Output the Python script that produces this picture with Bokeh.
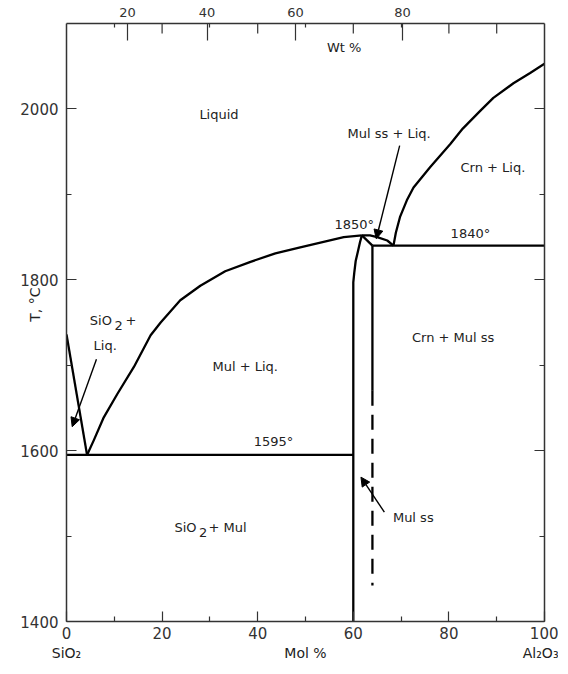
from bokeh.plotting import figure
from bokeh.models import LinearAxis, FixedTicker, Label, Arrow, NormalHead
from bokeh.embed import file_html
from bokeh.resources import INLINE

# ---------------- data (mol % Al2O3, temperature in deg C) ----------------
liq_sio2_x = [0.0, 4.3]
liq_sio2_t = [1736, 1595]

liq_mul_x = [4.3, 5.7, 7.8, 10.6, 14.1, 17.6, 19.7, 23.8, 28.0, 33.2, 38.5, 43.7, 48.9, 58.0, 61.8]
liq_mul_t = [1595, 1612, 1639, 1666, 1698, 1735, 1750, 1776, 1793, 1810, 1821, 1831, 1838, 1850, 1852]

dome_x = [61.8, 63.5, 65.0, 67.1, 68.4]
dome_t = [1852, 1852, 1850, 1846, 1840]

liq_crn_x = [68.4, 68.9, 69.8, 71.2, 72.6, 76.1, 80.3, 82.9, 86.6, 89.3, 93.5, 97.0, 100.0]
liq_crn_t = [1840, 1855, 1874, 1893, 1908, 1932, 1959, 1977, 1998, 2013, 2030, 2042, 2053]

mul_left_x = [60.0, 60.0, 60.2, 60.5, 61.0, 61.4, 61.8]
mul_left_t = [1400, 1797, 1808, 1822, 1834, 1844, 1852]

mul_solidus_x = [61.8, 64.0]
mul_solidus_t = [1852, 1840]

mul_right_x = [64.0, 64.0]
mul_right_t = [1840, 1670]
mul_right_dash_x = [64.0, 64.0]
mul_right_dash_t = [1670, 1442]

eut_low_x = [0.0, 60.0]
eut_low_t = [1595, 1595]
eut_high_x = [64.0, 100.0]
eut_high_t = [1840, 1840]

# axis ticks
mol_major = [0, 20, 40, 60, 80, 100]
mol_minor = [10, 30, 50, 70, 90]
top_mid = [20, 40, 60, 80, 90]
top_minor = [10, 30, 50, 70]
t_major = [1400, 1600, 1800, 2000]
t_minor = [1500, 1700, 1900]
wt_labels = ["20", "40", "60", "80"]
wt_pos = [12.75, 29.4, 47.9, 70.3]   # mol % positions of the wt % ticks
end_pos = [0, 50, 100]
end_labels = ["SiO₂", "Mol %", "Al₂O₃"]

FONT = "DejaVu Sans"
TXT = "#222222"
AX = "#333333"
LW = 2.3
FH = 598

p = figure(frame_width=478, frame_height=FH, x_range=(0, 100), y_range=(1400, 2100),
           output_backend="svg", toolbar_location=None,
           min_border_left=66, min_border_right=14, min_border_top=23, min_border_bottom=50)
p.xgrid.visible = False
p.ygrid.visible = False
p.outline_line_color = None
p.background_fill_color = "white"
p.border_fill_color = "white"

def style_axis(ax, major, minor, maj_in, min_in, labels=True, size="15px"):
    ax.ticker = FixedTicker(ticks=major, minor_ticks=minor)
    ax.major_tick_in = maj_in
    ax.major_tick_out = 0
    ax.minor_tick_in = min_in
    ax.minor_tick_out = 0
    ax.axis_line_color = AX
    ax.axis_line_width = 1.5
    ax.major_tick_line_color = AX
    ax.minor_tick_line_color = AX
    ax.major_tick_line_width = 1.2
    ax.minor_tick_line_width = 1.2
    ax.major_label_text_font = FONT
    ax.major_label_text_font_size = size
    ax.major_label_text_color = AX
    if not labels:
        ax.major_label_overrides = {t: "" for t in major}
        ax.major_label_standoff = 0

style_axis(p.xaxis[0], mol_major, mol_minor, 10, 5)
p.xaxis[0].major_label_standoff = 5
style_axis(p.yaxis[0], t_major, t_minor, 10, 5)
p.yaxis[0].major_label_standoff = 8
# leading no-break spaces lift the centred title slightly above the frame centre
p.yaxis[0].axis_label = "\u00a0" * 8 + "T, °C"
p.yaxis[0].axis_label_text_font = FONT
p.yaxis[0].axis_label_text_font_size = "14px"
p.yaxis[0].axis_label_text_font_style = "normal"
p.yaxis[0].axis_label_text_color = TXT
p.yaxis[0].axis_label_standoff = -26

# second row below: component names and axis title
ends = LinearAxis()
ends.ticker = FixedTicker(ticks=end_pos, minor_ticks=[])
ends.major_label_overrides = dict(zip(end_pos, end_labels))
ends.axis_line_color = None
ends.major_tick_line_color = None
ends.minor_tick_line_color = None
ends.major_tick_in = 0
ends.major_tick_out = 0
ends.major_label_standoff = 3
ends.major_label_text_font = FONT
ends.major_label_text_font_size = "14px"
ends.major_label_text_color = TXT
p.add_layout(ends, "below")

# top: wt % scale (labelled ticks), with mirrored mol % minor ticks
top = LinearAxis()
style_axis(top, wt_pos, top_minor, 17, 4, size="13px")
top.major_label_overrides = dict(zip(wt_pos, wt_labels))
top.major_label_standoff = 7
p.add_layout(top, "above")
mid_len = 10 * 700 / FH
p.segment(x0=top_mid, x1=top_mid, y0=[2100] * len(top_mid), y1=[2100 - mid_len] * len(top_mid),
          line_color=AX, line_width=1.2)

right = LinearAxis()
style_axis(right, t_major, t_minor, 10, 5, labels=False)
p.add_layout(right, "right")

# phase boundaries
kw = dict(line_color="black", line_width=LW, line_join="round", line_cap="butt")
p.line(liq_sio2_x, liq_sio2_t, **kw)
p.line(liq_mul_x, liq_mul_t, **kw)
p.line(dome_x, dome_t, **kw)
p.line(liq_crn_x, liq_crn_t, **kw)
p.line(mul_left_x, mul_left_t, **kw)
p.line(mul_solidus_x, mul_solidus_t, **kw)
p.line(mul_right_x, mul_right_t, **kw)
p.line(mul_right_dash_x, mul_right_dash_t, line_dash="15 9", **kw)
p.line(eut_low_x, eut_low_t, **kw)
p.line(eut_high_x, eut_high_t, **kw)

# text labels inside the diagram
def lab(x, y, text, align="center", size="13px"):
    p.add_layout(Label(x=x, y=y, text=text, text_font=FONT, text_font_size=size,
                       text_color=TXT, text_align=align, text_baseline="middle"))

lab(31.9, 1994, "Liquid")
lab(67.5, 1971, "Mul ss + Liq.")
lab(89.2, 1932, "Crn + Liq.")
lab(60.2, 1865, "1850°")
lab(84.5, 1854, "1840°")
lab(4.87, 1752, "SiO", align="left")
lab(10.04, 1746, "2", align="left")
lab(12.34, 1752, "+", align="left")
lab(8.09, 1723, "Liq.")
lab(37.4, 1698, "Mul + Liq.")
lab(80.9, 1732, "Crn + Mul ss")
lab(43.3, 1611, "1595°")
lab(22.58, 1510, "SiO", align="left")
lab(27.7, 1504, "2", align="left")
lab(29.69, 1510, "+ Mul", align="left")
lab(72.55, 1522, "Mul ss")
lab(58.1, 2072, "Wt %")

# arrows
def arrow(x0, y0, x1, y1):
    p.add_layout(Arrow(end=NormalHead(size=9, fill_color="black", line_color="black", line_width=1),
                       x_start=x0, y_start=y0, x_end=x1, y_end=y1,
                       line_color="black", line_width=1.4))

arrow(6.27, 1707, 1.19, 1628)
arrow(69.7, 1957, 64.8, 1848)
arrow(66.5, 1528, 61.6, 1569)

open("out.html", "w").write(file_html(p, INLINE))
